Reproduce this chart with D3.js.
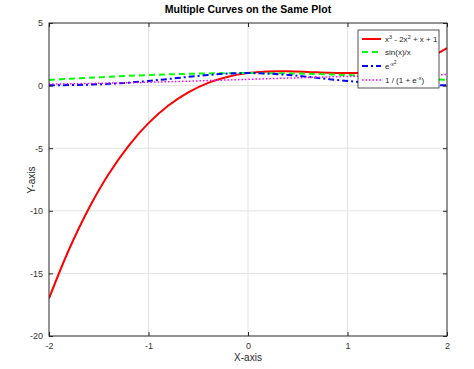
<!DOCTYPE html>
<html><head><meta charset="utf-8">
<script src="https://cdn.jsdelivr.net/npm/d3@7"></script>
<style>body{margin:0;background:#fff;font-family:"Liberation Sans",Arial,sans-serif;}</style>
</head><body>
<svg id="c" width="474" height="369"></svg>
<script>
const xs = [-2,-1.8,-1.6,-1.4,-1.2,-1,-0.8,-0.6,-0.4,-0.2,0,0.2,0.4,0.6,0.8,1,1.2,1.4,1.6,1.8,2];
const cubic = [-17,-13.112,-9.816,-7.064,-4.808,-3,-1.592,-0.536,0.216,0.712,1,1.128,1.144,1.096,1.032,1,1.048,1.224,1.576,2.152,3];
const sinc = [0.45465,0.54103,0.62473,0.70389,0.77670,0.84147,0.89670,0.94107,0.97355,0.99335,1,0.99335,0.97355,0.94107,0.89670,0.84147,0.77670,0.70389,0.62473,0.54103,0.45465];
const gauss = [0.01832,0.03916,0.07730,0.14086,0.23693,0.36788,0.52729,0.69768,0.85214,0.96079,1,0.96079,0.85214,0.69768,0.52729,0.36788,0.23693,0.14086,0.07730,0.03916,0.01832];
const sigm = [0.11920,0.14185,0.16798,0.19782,0.23148,0.26894,0.31003,0.35434,0.40131,0.45017,0.5,0.54983,0.59869,0.64566,0.68997,0.73106,0.76852,0.80218,0.83202,0.85815,0.88080];
const xTicks = [-2,-1,0,1,2];
const yTicks = [5,0,-5,-10,-15,-20];

const svg = d3.select("#c");
const L=49,R=447,T=23,B=336;
const x = d3.scaleLinear().domain([-2,2]).range([L,R]);
const y = d3.scaleLinear().domain([-20,5]).range([B,T]);

// grid
svg.append("g").selectAll("line").data(xTicks.slice(1,-1)).join("line")
  .attr("x1",d=>x(d)).attr("x2",d=>x(d)).attr("y1",T).attr("y2",B)
  .attr("stroke","#e3e3e3").attr("stroke-width",1);
svg.append("g").selectAll("line").data(yTicks.slice(1,-1)).join("line")
  .attr("y1",d=>y(d)).attr("y2",d=>y(d)).attr("x1",L).attr("x2",R)
  .attr("stroke","#e3e3e3").attr("stroke-width",1);

const defs = svg.append("defs");
defs.append("clipPath").attr("id","clip").append("rect").attr("x",L).attr("y",T).attr("width",R-L).attr("height",B-T);

const series = [
  {v:cubic, c:"#ff0000", w:2, dash:null},
  {v:sinc, c:"#00ff00", w:2, dash:"6,4"},
  {v:gauss, c:"#0000ff", w:2, dash:"6,3,2,3"},
  {v:sigm, c:"#ff00ff", w:1.5, dash:"1.5,2"}
];
const line = d3.line().x((d,i)=>x(xs[i])).y(d=>y(d)).curve(d3.curveCatmullRom);
const g = svg.append("g").attr("clip-path","url(#clip)");
series.forEach(s=>{
  g.append("path").attr("d",line(s.v)).attr("fill","none").attr("stroke",s.c)
   .attr("stroke-width",s.w).attr("stroke-dasharray",s.dash);
});

// frame
svg.append("rect").attr("x",L).attr("y",T).attr("width",R-L).attr("height",B-T)
  .attr("fill","none").attr("stroke","#262626").attr("stroke-width",1);

// axes with inward ticks
const fmt = d=>String(d);
const axB = d3.axisBottom(x).tickValues(xTicks).tickSize(-4).tickPadding(7).tickFormat(fmt);
const axL = d3.axisLeft(y).tickValues(yTicks).tickSize(-4).tickPadding(6).tickFormat(fmt);
const axT = d3.axisTop(x).tickValues(xTicks).tickSize(-4).tickFormat("");
const axR = d3.axisRight(y).tickValues(yTicks).tickSize(-4).tickFormat("");
[[axB,`translate(0,${B})`],[axL,`translate(${L},0)`],[axT,`translate(0,${T})`],[axR,`translate(${R},0)`]].forEach(([a,t])=>{
  const gg = svg.append("g").attr("transform",t).call(a);
  gg.select(".domain").remove();
  gg.selectAll("line").attr("stroke","#262626");
  gg.selectAll("text").attr("fill","#333").style("font-size","9px").style("font-family","Liberation Sans, Arial, sans-serif");
});

// title & labels
svg.append("text").attr("x",248).attr("y",13).attr("text-anchor","middle")
  .style("font-size","10.5px").style("font-weight","bold").attr("fill","#000").text("Multiple Curves on the Same Plot");
svg.append("text").attr("x",248).attr("y",361).attr("text-anchor","middle")
  .style("font-size","10px").attr("fill","#262626").text("X-axis");
svg.append("text").attr("transform","translate(35,180) rotate(-90)").attr("text-anchor","middle")
  .style("font-size","10px").attr("fill","#262626").text("Y-axis");

// legend
const lg = svg.append("g");
lg.append("rect").attr("x",358).attr("y",30).attr("width",81).attr("height",58)
  .attr("fill","#fff").attr("stroke","#262626").attr("stroke-width",0.8);
const rowsY = [39,52,66,80];
const labels = [
  [["x",0],["3",1],[" - 2x",0],["2",1],[" + x + 1",0]],
  [["sin(x)/x",0]],
  [["e",0],["-x",1],["2",2]],
  [["1 / (1 + e",0],["-x",1],[")",0]]
];
series.forEach((s,i)=>{
  lg.append("line").attr("x1",362).attr("x2",381).attr("y1",rowsY[i]).attr("y2",rowsY[i])
    .attr("stroke",s.c).attr("stroke-width",s.w).attr("stroke-dasharray",s.dash);
  const t = lg.append("text").attr("x",385).attr("y",rowsY[i]+3).style("font-size","8px").attr("fill","#262626");
  let shift=0;
  labels[i].forEach(([txt,sup])=>{
    const target = sup===1?-3:(sup===2?-5:0);
    const ts = t.append("tspan").text(txt).attr("dy", target-shift);
    if(sup===1) ts.style("font-size","5.5px");
    else if(sup===2) ts.style("font-size","4.5px");
    shift = target;
  });
});
</script>
</body></html>
